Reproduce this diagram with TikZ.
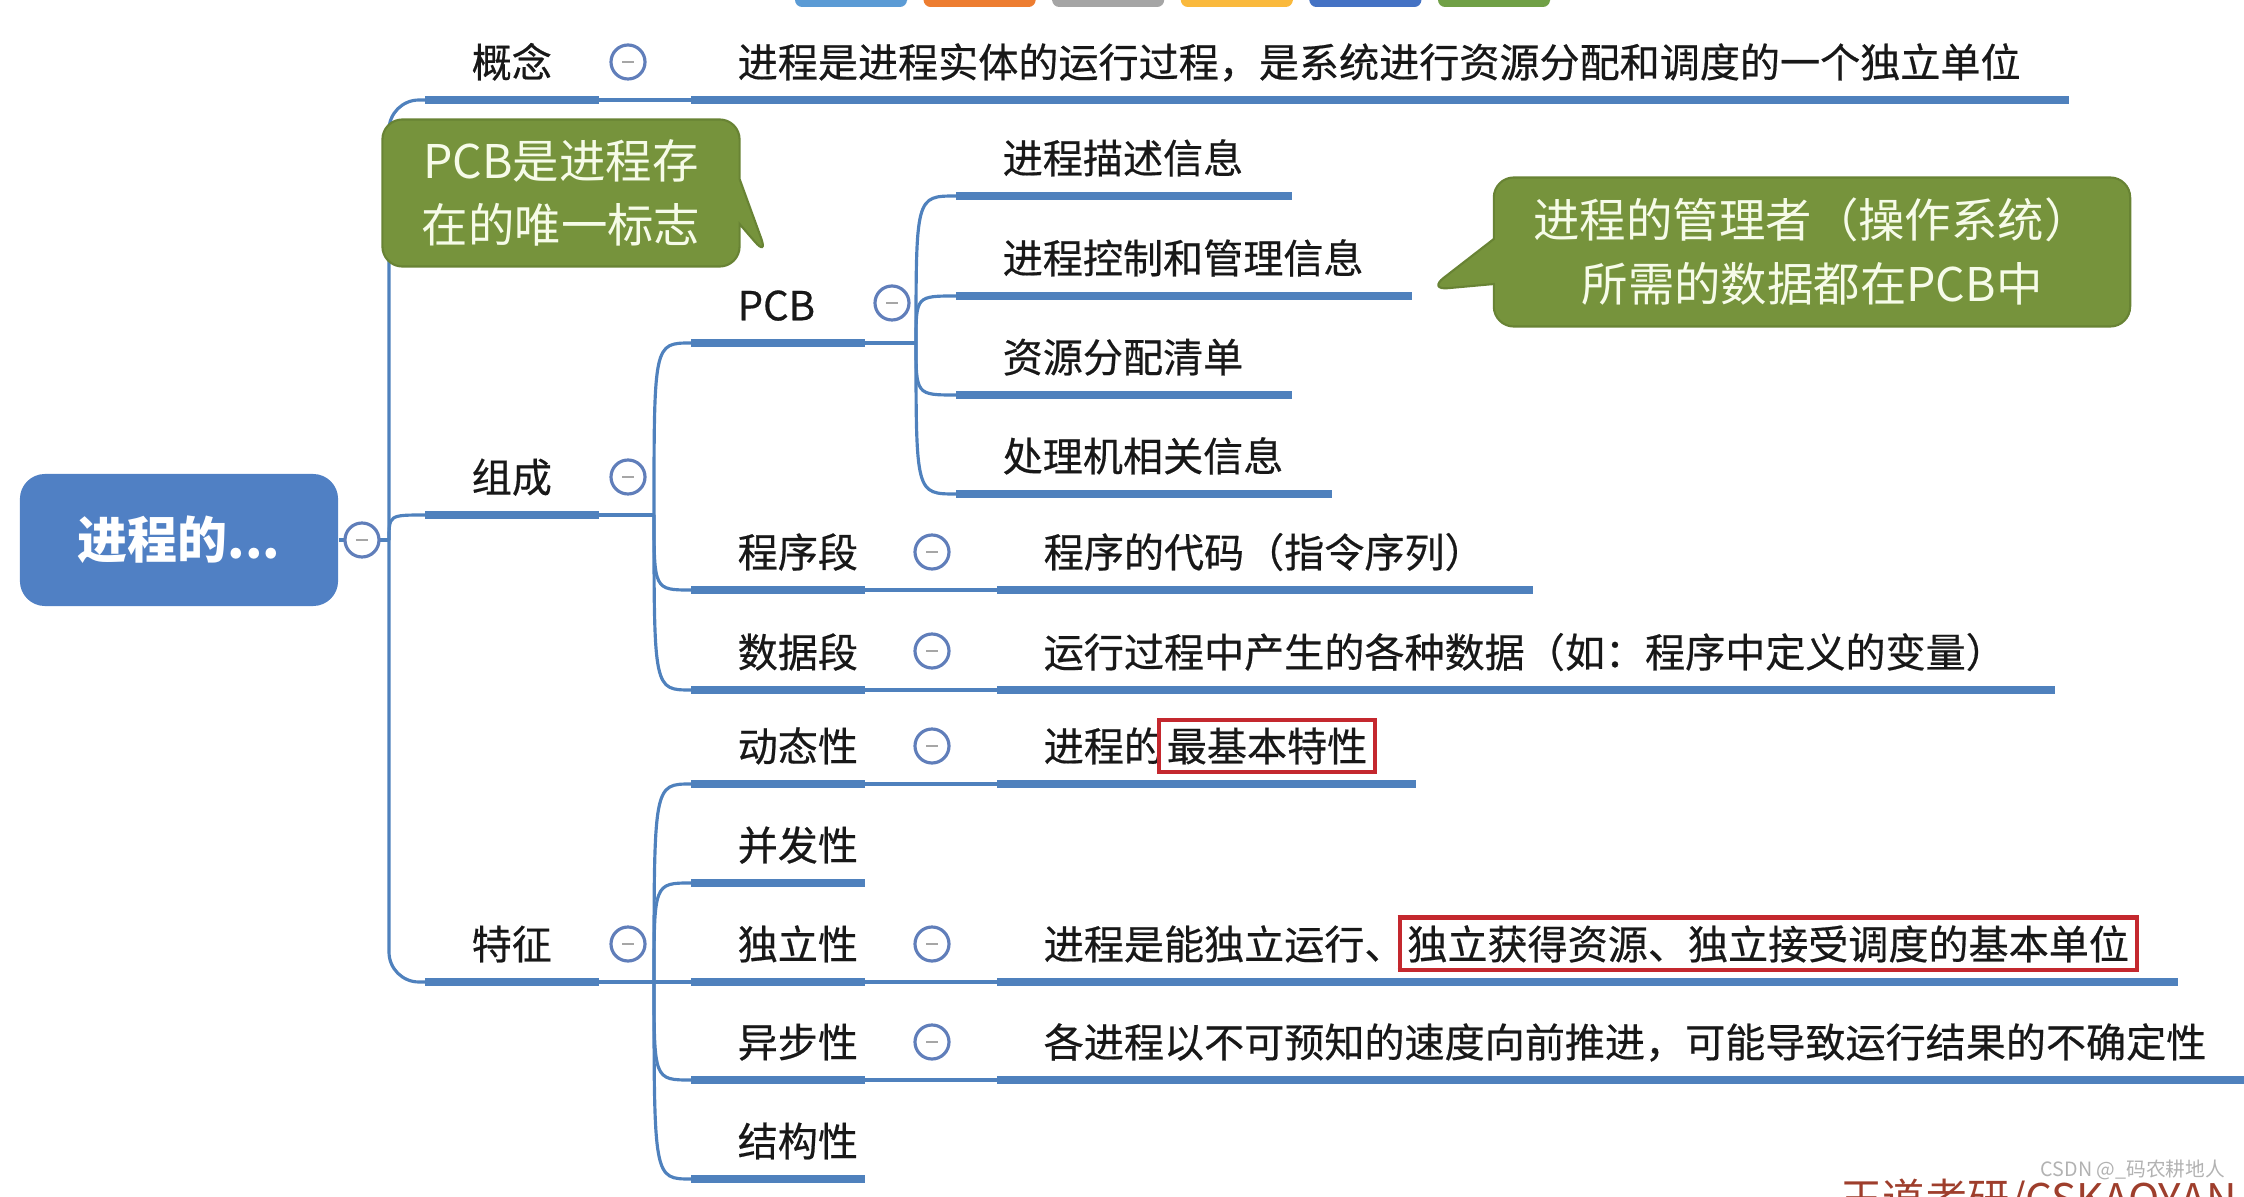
\documentclass[tikz,border=0pt]{standalone}
\usepackage{fontspec}
\setmainfont{Noto Sans CJK SC}
\newfontfamily\topicfam{Noto Sans CJK SC}[FakeBold=0.5]
\usepackage{tikz}
\usetikzlibrary{shapes.callouts, positioning, calc}
\definecolor{linkblue}{RGB}{79,129,189}
\definecolor{rootblue}{RGB}{80,128,196}
\definecolor{foldblue}{RGB}{96,126,186}
\definecolor{notegreen}{RGB}{118,147,60}
\definecolor{noteedge}{RGB}{104,131,52}
\definecolor{notetext}{RGB}{246,251,232}
\definecolor{textdark}{RGB}{24,24,24}
\definecolor{markred}{RGB}{196,40,46}
\definecolor{wmred}{RGB}{158,62,44}
\definecolor{tabblue}{RGB}{91,155,213}
\definecolor{taborange}{RGB}{237,125,49}
\definecolor{tabgray}{RGB}{165,165,165}
\definecolor{tabyellow}{RGB}{250,185,60}
\definecolor{tabdark}{RGB}{68,114,196}
\definecolor{tabgreen}{RGB}{112,160,70}
\newcommand{\topicfont}{\topicfam\fontsize{11.4}{14}\selectfont}
\newcommand{\notefont}{\fontsize{13.2}{18.2}\selectfont}
\newcommand{\redmark}[1]{{\setlength{\fboxrule}{1.2pt}\setlength{\fboxsep}{1.6pt}%
  \kern-2pt\fcolorbox{markred}{white}{#1}\kern-2.8pt}}
\tikzset{
  root/.style={rectangle, rounded corners=0.25cm, fill=rootblue, text=white,
    minimum width=3.18cm, minimum height=1.32cm,
    font=\fontsize{14.2}{16}\selectfont\bfseries},
  topic/.style={anchor=south west, inner xsep=0pt, inner ysep=0.12cm,
    text height=0.36cm, text depth=0.1cm, font=\topicfont, text=textdark,
    execute at begin node={\hspace*{0.46cm}}},
  branch/.style={topic, text width=1.72cm, align=left},
  leaf/.style={topic, execute at end node={\hspace*{0.48cm}}},
  fold/.style={circle, draw=foldblue, fill=white, line width=0.9pt,
    minimum size=0.34cm, inner sep=0pt,
    path picture={\draw[gray!70, line width=0.7pt]
      ([xshift=-0.06cm]path picture bounding box.center) --
      ([xshift=0.06cm]path picture bounding box.center);}},
  note/.style={rectangle callout, rounded corners=0.2cm, fill=notegreen,
    draw=noteedge, line width=0.6pt, text=notetext, align=center,
    font=\notefont, callout pointer width=0.45cm},
  conn/.style={draw=linkblue, line width=0.9pt},
  uline/.style={linkblue, line width=2.5pt}
}
\begin{document}
\begin{tikzpicture}[x=0.01cm, y=-0.01cm]
  \useasboundingbox (0,0) rectangle (2244,1197);

  % tab strip cut off at the top edge
  \foreach \c [count=\i from 0] in {tabblue,taborange,tabgray,tabyellow,tabdark,tabgreen}
    \fill[\c, rounded corners=2pt] (795+128.6*\i,-6) rectangle ++(112,13);

  % root
  \node[root] (root) at (179,540) {进程的...};
  \coordinate (j0) at (389,540);

  % --- level 1 ---
  \node[branch] (gainian) at (425,100) {概念};
  \node[branch] (zucheng) at (425,515) {组成};
  \node[branch] (tezheng) at (425,982) {特征};

  % 概念
  \node[leaf] (dingyi) at (691,100) {进程是进程实体的运行过程，是系统进行资源分配和调度的一个独立单位};

  % 组成
  \coordinate (jzc) at (654,515);
  \node[branch] (pcb) at (691,343) {PCB};
  \node[branch] (chengxu) at (691,590) {程序段};
  \node[branch] (shuju) at (691,690) {数据段};
  \node[leaf] (daima) at (997,590) {程序的代码（指令序列）};
  \node[leaf] (bianliang) at (997,690) {运行过程中产生的各种数据（如：程序中定义的变量）};

  % PCB
  \coordinate (jpcb) at (916,343);
  \node[leaf] (miaoshu) at (956,196) {进程描述信息};
  \node[leaf] (kongzhi) at (956,296) {进程控制和管理信息};
  \node[leaf] (ziyuan) at (956,395) {资源分配清单};
  \node[leaf] (chuliji) at (956,494) {处理机相关信息};

  % 特征
  \coordinate (jtz) at (654,982);
  \node[branch] (dongtai) at (691,784) {动态性};
  \node[branch] (bingfa) at (691,883) {并发性};
  \node[branch] (duli) at (691,982) {独立性};
  \node[branch] (yibu) at (691,1080) {异步性};
  \node[branch] (jiegou) at (691,1179) {结构性};
  \node[leaf] (jiben) at (997,784) {进程的\redmark{最基本特性}};
  \node[leaf] (danwei) at (997,982) {进程是能独立运行、\redmark{独立获得资源、独立接受调度的基本单位}};
  \node[leaf] (buqueding) at (997,1080) {各进程以不可预知的速度向前推进，可能导致运行结果的不确定性};

  % connectors
  \draw[conn] (root.east) -- (j0);
  \draw[conn, rounded corners=0.3cm] (j0) |- (gainian.south west);
  \draw[conn, rounded corners=0.3cm] (j0) |- (tezheng.south west);
  \draw[conn] (j0) .. controls (j0 |- zucheng.south west) .. (zucheng.south west);
  \draw[conn] (gainian.south east) -- (dingyi.south west);

  \draw[conn] (zucheng.south east) -- (jzc);
  \foreach \n in {pcb, chengxu, shuju}
    \draw[conn] (jzc) .. controls (jzc |- \n.south west) .. (\n.south west);
  \draw[conn] (chengxu.south east) -- (daima.south west);
  \draw[conn] (shuju.south east) -- (bianliang.south west);

  \draw[conn] (pcb.south east) -- (jpcb);
  \foreach \n in {miaoshu, kongzhi, ziyuan, chuliji}
    \draw[conn] (jpcb) .. controls (jpcb |- \n.south west) .. (\n.south west);

  \draw[conn] (tezheng.south east) -- (jtz);
  \foreach \n in {dongtai, bingfa, duli, yibu, jiegou}
    \draw[conn] (jtz) .. controls (jtz |- \n.south west) .. (\n.south west);
  \draw[conn] (dongtai.south east) -- (jiben.south west);
  \draw[conn] (duli.south east) -- (danwei.south west);
  \draw[conn] (yibu.south east) -- (buqueding.south west);

  % underlines
  \foreach \n in {gainian, zucheng, tezheng, dingyi, pcb, chengxu, shuju, daima,
                  bianliang, miaoshu, kongzhi, ziyuan, chuliji, dongtai, bingfa,
                  duli, yibu, jiegou, jiben, danwei, buqueding}
    \draw[uline] (\n.south west) -- (\n.south east);

  % fold markers
  \node[fold] (f-root) at (362,540) {};
  \node[fold] (f-gainian) at (628,62) {};
  \node[fold] (f-zucheng) at (628,477) {};
  \node[fold] (f-tezheng) at (628,944) {};
  \node[fold] (f-pcb) at (892,303) {};
  \node[fold] (f-chengxu) at (932,552) {};
  \node[fold] (f-shuju) at (932,651) {};
  \node[fold] (f-dongtai) at (932,746) {};
  \node[fold] (f-duli) at (932,944) {};
  \node[fold] (f-yibu) at (932,1042) {};

  % callouts
  \node[note, minimum width=3.57cm, minimum height=1.47cm,
        callout absolute pointer={(768,257)}] (pcbnote) at (561,193)
        {PCB是进程存\\在的唯一标志};
  \node[note, minimum width=6.36cm, minimum height=1.49cm,
        callout absolute pointer={(1428,290)}] (osnote) at (1812,252)
        {进程的管理者（操作系统）\\所需的数据都在PCB中};

  % watermarks
  \node[anchor=base west, inner sep=0pt, text=wmred,
        font=\fontsize{12}{12}\selectfont] (wangdao) at (1840,1214) {王道考研/CSKAOYAN};
  \node[anchor=west, inner sep=0pt, text=gray!60,
        font=\fontsize{5.6}{6}\selectfont] (csdn) at (2040,1170) {CSDN @\_码农耕地人};
\end{tikzpicture}
\end{document}
